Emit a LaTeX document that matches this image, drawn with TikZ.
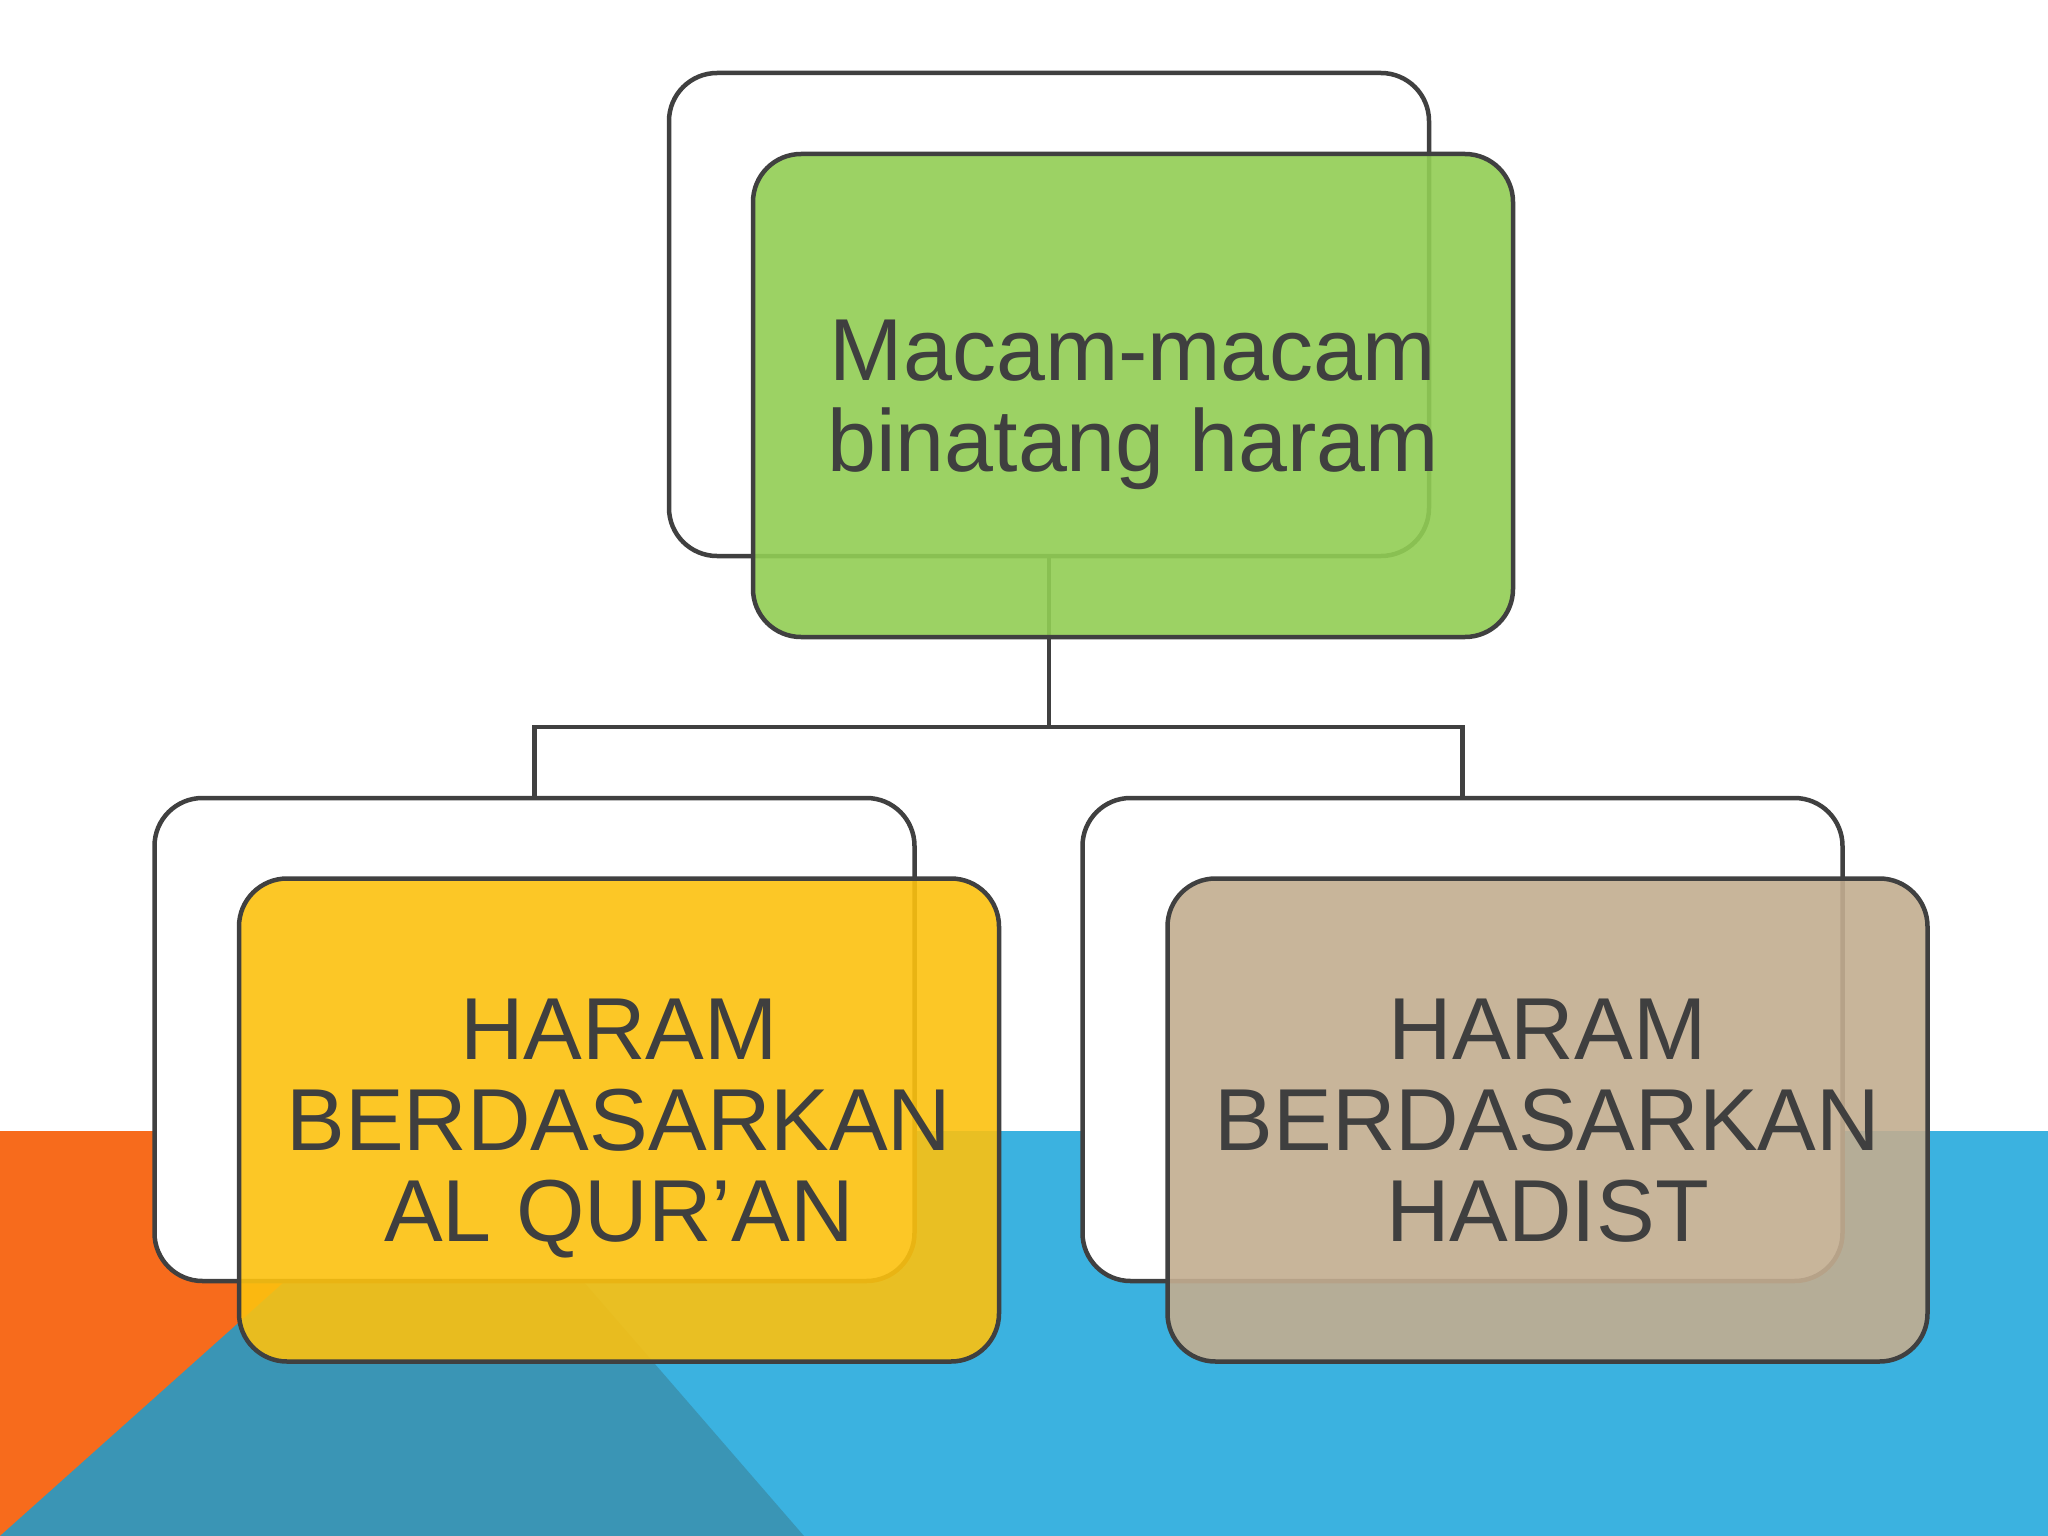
\documentclass[tikz,border=0pt]{standalone}
\usepackage{fontspec}
\setmainfont{Liberation Sans}
\usetikzlibrary{positioning,calc}

\definecolor{linegray}{HTML}{404040}
\definecolor{textgray}{HTML}{3F3F3F}
\definecolor{boxgreen}{RGB}{146,206,84}
\definecolor{boxyellow}{RGB}{252,193,15}
\definecolor{boxtan}{RGB}{195,173,144}
\definecolor{bgorange}{HTML}{F76B1C}
\definecolor{bgblue}{HTML}{3BB2E0}
\definecolor{bgteal}{HTML}{3A95B5}

\tikzset{
	backbox/.style={draw=linegray, line width=4.5pt, fill=white, rounded corners=48pt,
		minimum width=760pt, minimum height=483pt, inner sep=0pt, outer sep=0pt},
	frontbox/.style={backbox, fill opacity=0.9, text opacity=1, text=textgray,
		align=center, text depth=0pt, font=\fontsize{88}{91}\selectfont},
	link/.style={draw=linegray, line width=4.5pt}
}

\begin{document}
\begin{tikzpicture}[x=1pt, y=-1pt]
		\useasboundingbox (0,0) rectangle (2048,1536);
		% background
		\fill[white] (0,0) rectangle (2048,1536);
		\fill[bgorange] (0,1131) rectangle (453,1536);
		\fill[bgblue] (453,1131) rectangle (2048,1536);
		\fill[bgteal] (0,1536) -- (453,1131) -- (804,1536) -- cycle;
		% back boxes
		\node[backbox] (topback) at (1049,314.5) {};
		\node[backbox] (leftback) at (534.5,1039.5) {};
		\node[backbox] (rightback) at (1462.5,1039.5) {};
		% connectors
		\coordinate (fork) at (1049,727);
		\draw[link] (topback.south) -- (fork) -| (leftback.north);
		\draw[link] (fork) -| (rightback.north);
		% front boxes
		\node[frontbox, fill=boxgreen] (top) at ([shift={(84,81)}]topback.center) {Macam-macam\\binatang haram};
		\node[frontbox, fill=boxyellow] (quran) at ([shift={(84.5,80.5)}]leftback.center) {HARAM\\BERDASARKAN\\AL QUR’AN};
		\node[frontbox, fill=boxtan] (hadist) at ([shift={(85,80.5)}]rightback.center) {HARAM\\BERDASARKAN\\HADIST};
	\end{tikzpicture}
\end{document}
